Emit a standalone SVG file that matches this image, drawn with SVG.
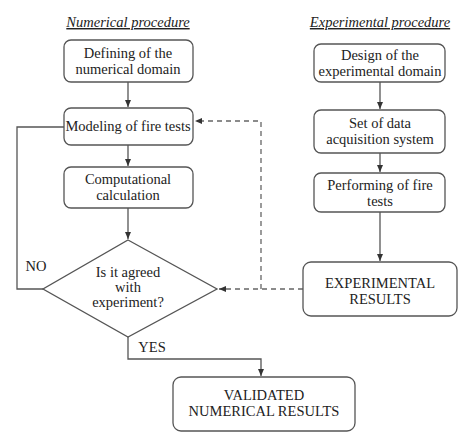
<svg xmlns="http://www.w3.org/2000/svg" width="474" height="448" viewBox="0 0 474 448">
<style>
.box{fill:#fff;stroke:#555;stroke-width:1.3}
.ln{fill:none;stroke:#555;stroke-width:1.3}
.dash{fill:none;stroke:#666;stroke-width:1.3;stroke-dasharray:5,4}
.t{font-size:14.5px;fill:#222;text-anchor:middle}
.title{font-style:italic;text-decoration:underline}
</style>
<defs>
<marker id="ah" markerWidth="8" markerHeight="8" refX="7" refY="4" orient="auto" markerUnits="userSpaceOnUse">
<path d="M0,1 L7,4 L0,7 Z" fill="#333"/>
</marker>
</defs>
<rect width="474" height="448" fill="#fff"/>
<g id="connectors">
<line class="ln" x1="128" y1="82" x2="128" y2="107" marker-end="url(#ah)"/>
<line class="ln" x1="128" y1="145" x2="128" y2="166" marker-end="url(#ah)"/>
<line class="ln" x1="128" y1="208" x2="128" y2="239" marker-end="url(#ah)"/>
<polyline class="ln" points="64,127 17,127 17,289 43,289"/>
<polyline class="ln" points="128,337 128,359 261,359 261,376" marker-end="url(#ah)"/>
<line class="ln" x1="380" y1="82" x2="380" y2="109" marker-end="url(#ah)"/>
<line class="ln" x1="380" y1="153" x2="380" y2="172" marker-end="url(#ah)"/>
<line class="ln" x1="380" y1="212" x2="380" y2="261" marker-end="url(#ah)"/>
<line class="dash" x1="303" y1="289" x2="219" y2="289" marker-end="url(#ah)"/>
<polyline class="dash" points="261,289 261,121 195,121" marker-end="url(#ah)"/>
</g>
<g class="t" font-family="Liberation Serif, DejaVu Serif, serif">
<text class="title" x="128" y="27">Numerical procedure</text>
<text class="title" x="380" y="27">Experimental procedure</text>
<g id="n1"><rect class="box" x="64" y="40" width="129" height="42" rx="7"/><text x="128" y="58">Defining of the</text><text x="128" y="74">numerical domain</text></g>
<g id="n2"><rect class="box" x="64" y="108" width="129" height="37" rx="7"/><text x="128" y="131">Modeling of fire tests</text></g>
<g id="n3"><rect class="box" x="64" y="167" width="129" height="41" rx="7"/><text x="128" y="184">Computational</text><text x="128" y="200">calculation</text></g>
<g id="n4"><polygon class="box" points="128,240 217,289 128,337 43,289"/><text x="128" y="277">Is it agreed</text><text x="128" y="292">with</text><text x="128" y="307">experiment?</text></g>
<text x="36" y="271">NO</text>
<text x="152" y="352">YES</text>
<g id="n5"><rect class="box" x="173" y="377" width="182" height="54" rx="8"/><text x="264" y="400">VALIDATED</text><text x="264" y="416">NUMERICAL RESULTS</text></g>
<g id="e1"><rect class="box" x="314" y="44" width="131" height="38" rx="7"/><text x="380" y="60">Design of the</text><text x="380" y="76">experimental domain</text></g>
<g id="e2"><rect class="box" x="314" y="110" width="131" height="43" rx="7"/><text x="380" y="128">Set of data</text><text x="380" y="144">acquisition system</text></g>
<g id="e3"><rect class="box" x="314" y="173" width="131" height="39" rx="7"/><text x="380" y="190">Performing of fire</text><text x="380" y="206">tests</text></g>
<g id="e4"><rect class="box" x="303" y="262" width="154" height="54" rx="8"/><text x="380" y="288">EXPERIMENTAL</text><text x="380" y="304">RESULTS</text></g>
</g>
</svg>
